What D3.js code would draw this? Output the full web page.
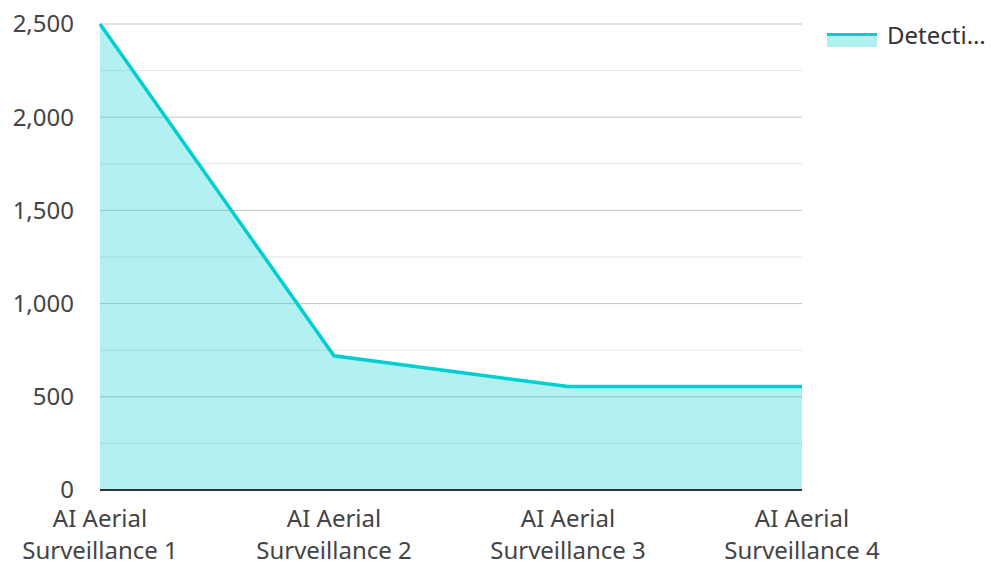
<!DOCTYPE html>
<html><head><meta charset="utf-8">
<script src="https://cdn.jsdelivr.net/npm/d3@7"></script>
<style>body{margin:0;background:#fff;font-family:"Noto Sans",sans-serif}</style>
</head><body><svg id="c" width="991" height="562"></svg>
<script>
const categories = ["AI Aerial Surveillance 1","AI Aerial Surveillance 2","AI Aerial Surveillance 3","AI Aerial Surveillance 4"];
const values = [2500, 720, 555, 555];
const seriesName = "Detection";
const yTicks = [0, 500, 1000, 1500, 2000, 2500];
const yMinorTicks = [250, 750, 1250, 1750, 2250];

const svg = d3.select("#c");
const m = {l:100, r:802, t:24, b:490};
const x = d3.scalePoint().domain(categories).range([m.l, m.r]);
const y = d3.scaleLinear().domain([0, 2500]).range([m.b, m.t]);
const fs = 24;

const g = svg.append("g");
g.selectAll(".minor").data(yMinorTicks).join("line")
  .attr("x1", m.l).attr("x2", m.r).attr("y1", d=>y(d)).attr("y2", d=>y(d))
  .attr("stroke", "#e6e6e6").attr("stroke-width", 1);
g.selectAll(".major").data(yTicks.filter(d=>d>0)).join("line")
  .attr("x1", m.l).attr("x2", m.r).attr("y1", d=>y(d)).attr("y2", d=>y(d))
  .attr("stroke", "#c4c4c4").attr("stroke-width", 1);

const color = "#00CED1";
svg.append("path").datum(values)
  .attr("d", d3.area().x((d,i)=>x(categories[i])).y0(y(0)).y1(d=>y(d)))
  .attr("fill", color).attr("fill-opacity", 0.3);
svg.append("path").datum(values)
  .attr("d", d3.line().x((d,i)=>x(categories[i])).y(d=>y(d)))
  .attr("fill", "none").attr("stroke", color).attr("stroke-width", 3.5);

svg.append("line").attr("x1", m.l).attr("x2", m.r).attr("y1", y(0)).attr("y2", y(0))
  .attr("stroke", "#333").attr("stroke-width", 2);

svg.selectAll(".yl").data(yTicks).join("text")
  .attr("x", 74).attr("y", d=>y(d)).attr("dy", "0.35em")
  .attr("text-anchor", "end").attr("font-size", fs).attr("fill", "#444")
  .text(d=>d3.format(",")(d));

const xl = svg.selectAll(".xl").data(categories).join("text")
  .attr("text-anchor", "middle").attr("font-size", fs).attr("fill", "#444");
xl.each(function(d){
  const t = d3.select(this);
  const words = d.split(" ");
  const l1 = words.slice(0,2).join(" "), l2 = words.slice(2).join(" ");
  t.append("tspan").attr("x", x(d)).attr("y", 527).text(l1);
  t.append("tspan").attr("x", x(d)).attr("y", 559).text(l2);
});

// legend
svg.append("rect").attr("x", 827).attr("y", 33).attr("width", 50).attr("height", 14)
  .attr("fill", color).attr("fill-opacity", 0.3);
svg.append("line").attr("x1", 827).attr("x2", 877).attr("y1", 34.5).attr("y2", 34.5)
  .attr("stroke", color).attr("stroke-width", 3);
svg.append("text").attr("x", 887).attr("y", 36).attr("dy", "0.35em")
  .attr("font-size", fs).attr("fill", "#333").text("Detecti…");
</script></body></html>
